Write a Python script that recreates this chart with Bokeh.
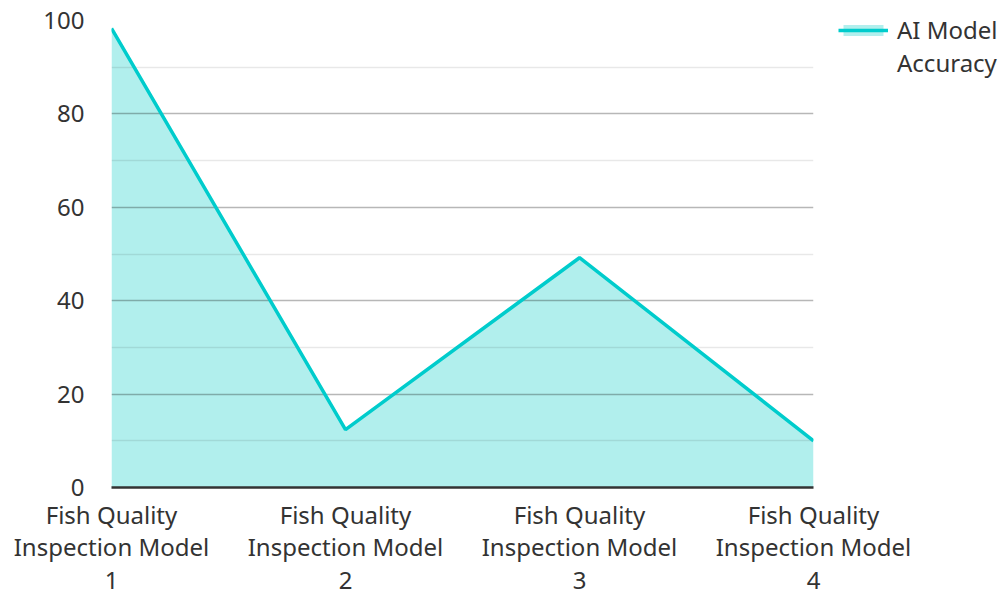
from bokeh.plotting import figure
from bokeh.models import Range1d, FixedTicker, SingleIntervalTicker, Legend, LegendItem
from bokeh.embed import file_html
from bokeh.resources import INLINE

categories = ["Fish Quality\nInspection Model\n1", "Fish Quality\nInspection Model\n2",
              "Fish Quality\nInspection Model\n3", "Fish Quality\nInspection Model\n4"]
accuracy = [98.3, 12.4, 49.2, 10.0]
series_name = ["AI Model", "Accuracy"]

xs = list(range(len(categories)))

FONT = "Noto Sans"
FS = "24px"
TXT = "#333333"
FRAME_W = 702
FRAME_H = 467

p = figure(frame_width=FRAME_W, frame_height=FRAME_H, output_backend="svg", toolbar_location=None,
           x_range=Range1d(0, len(categories) - 1), y_range=Range1d(0, 100),
           min_border_left=111, min_border_top=20, min_border_right=190, min_border_bottom=10)
p.outline_line_color = None
p.background_fill_color = "white"

area = p.varea(x=xs, y1=[0] * len(xs), y2=accuracy, fill_color="#b1efed", fill_alpha=1.0, level="image")
line = p.line(x=xs, y=accuracy, line_color="#00cccc", line_width=3.5)
dummy = p.line(x=[float("nan")], y=[float("nan")], line_alpha=0)

# grid
p.xgrid.grid_line_color = None
p.yaxis.ticker = SingleIntervalTicker(interval=20, num_minor_ticks=2)
p.ygrid.grid_line_color = "#000000"
p.ygrid.grid_line_alpha = 0.21
p.ygrid.grid_line_width = 1.5
p.ygrid.minor_grid_line_color = "#000000"
p.ygrid.minor_grid_line_alpha = 0.09
p.ygrid.minor_grid_line_width = 1.5

# y axis
yax = p.yaxis[0]
yax.axis_line_color = None
yax.major_tick_line_color = None
yax.minor_tick_line_color = None
yax.major_label_standoff = 21
yax.major_label_text_font = FONT
yax.major_label_text_font_size = FS
yax.major_label_text_color = TXT

# x axis
xax = p.xaxis[0]
xax.ticker = FixedTicker(ticks=xs)
xax.major_label_overrides = {i: c for i, c in zip(xs, categories)}
xax.axis_line_color = "#333333"
xax.axis_line_width = 2.5
xax.major_tick_line_color = None
xax.minor_tick_line_color = None
xax.major_label_standoff = 4
xax.major_label_text_font = FONT
xax.major_label_text_font_size = FS
xax.major_label_text_color = TXT
xax.major_label_text_line_height = 0.99
xax.major_label_orientation = "horizontal"

legend = Legend(items=[LegendItem(label=series_name[0], renderers=[area, line]),
                       LegendItem(label=series_name[1], renderers=[dummy])],
                location=(25, FRAME_H - 59))
legend.border_line_color = None
legend.background_fill_alpha = 0
legend.margin = 0
legend.padding = 0
legend.spacing = 0
legend.glyph_width = 50
legend.glyph_height = 14
legend.label_standoff = 9
legend.label_height = 31
legend.label_text_font = FONT
legend.label_text_font_size = FS
legend.label_text_color = TXT
legend.label_text_baseline = "middle"
legend.label_text_line_height = 0.9
p.add_layout(legend, "right")

open("out.html", "w").write(file_html(p, INLINE))
